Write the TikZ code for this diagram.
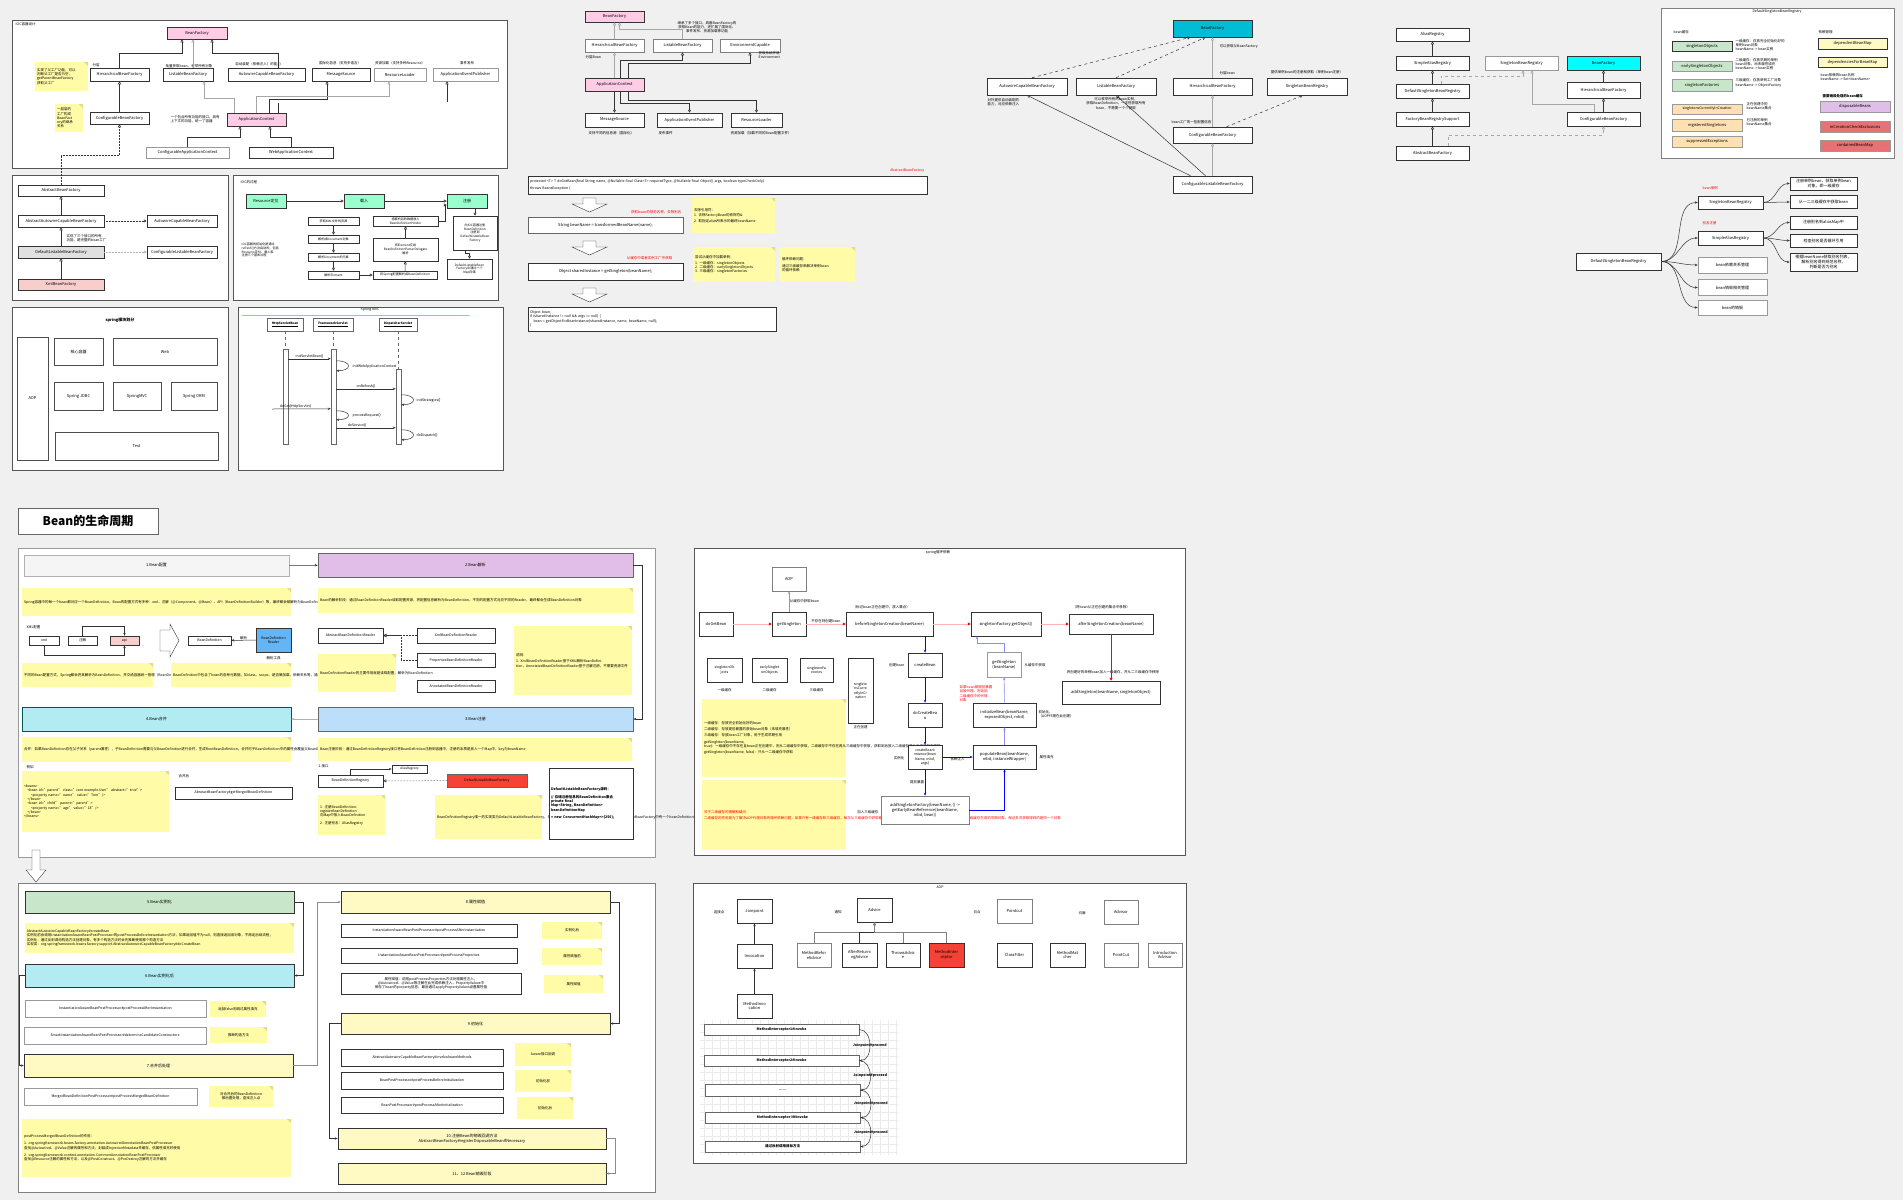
\documentclass[tikz,border=0pt]{standalone}
\usepackage{fontspec}
\setmainfont{Noto Sans CJK SC}
\usepackage{xcolor}
\definecolor{cBg}{HTML}{F0F0F0}
\definecolor{cLine}{HTML}{333333}
\definecolor{cFrame}{HTML}{555555}
\definecolor{cPink}{HTML}{FFCCE6}
\definecolor{cPinkL}{HTML}{F8CECC}
\definecolor{cNote}{HTML}{FFFBA6}
\definecolor{cFold}{HTML}{E2DC8A}
\definecolor{cMint}{HTML}{99FFCC}
\definecolor{cCyan}{HTML}{00BCD4}
\definecolor{cAqua}{HTML}{00FFFF}
\definecolor{cGreen}{HTML}{C8E6C9}
\definecolor{cOrange}{HTML}{FFE0B2}
\definecolor{cLemon}{HTML}{FFF9C4}
\definecolor{cPurple}{HTML}{E1BEE7}
\definecolor{cRose}{HTML}{E57373}
\definecolor{cRed}{HTML}{F44336}
\definecolor{cSky}{HTML}{BBDEFB}
\definecolor{cTeal}{HTML}{B2EBF2}
\definecolor{cBlue}{HTML}{64B5F6}
\definecolor{cGrayBox}{HTML}{E0E0E0}
\definecolor{cPale}{HTML}{F5F5F5}
\definecolor{cPinkLine}{HTML}{FFB3B3}
\usepackage{tikz}
\usetikzlibrary{arrows.meta}
\newcommand\fBox{\fontsize{4}{4.8}\selectfont}
\newcommand\fNote{\fontsize{3.5}{4.3}\selectfont}
\newcommand\fMicro{\fontsize{3.1}{3.8}\selectfont}
\tikzset{
  box/.style 2 args={draw=cLine,fill=white,line width=0.5pt,minimum width=#1,
    minimum height=#2,inner sep=0.5pt,align=center,font=\fBox},
  box-pink/.style={fill=cPink},
  note/.style 2 args={fill=cNote,minimum width=#1,minimum height=#2,inner sep=2pt,
    text width=#1-4,align=left,font=\fNote,
    path picture={\fill[cFold] (path picture bounding box.north east) -- ++(-4,0) -- ++(4,4) -- cycle;}},
  frame/.style={draw=cFrame,fill=white,line width=0.6pt},
  lbl/.style={font=\fNote,inner sep=0.5pt,align=center},
  arrow-inh/.style={-{Triangle[open,length=3pt,width=3pt]},draw=cLine,line width=0.5pt},
  arrow-inh-gray/.style={arrow-inh,draw=black!35},
  arrow-impl/.style={arrow-inh,dashed},
  arrow-dot/.style={arrow-inh,densely dotted},
  arrow/.style={-{Stealth[length=3pt,width=2.4pt]},draw=cLine,line width=0.5pt},
  arrow-red/.style={-{Triangle[length=3pt,width=3pt,color=red,fill=red]},draw=cPinkLine,line width=0.8pt},
  arrow-blue/.style={-{Stealth[length=3pt,width=2.4pt]},draw=blue,line width=0.6pt},
  arrow-blue-light/.style={arrow-blue,draw=blue!45},
}

\begin{document}
\begin{tikzpicture}[x=1pt,y=-1pt]
  \fill[cBg] (0,0) rectangle (1903,1200);
  \useasboundingbox (0,0) rectangle (1903,1200);

  \draw[frame] (12,20) rectangle (507,168);
  \node[lbl,anchor=west] (a-title) at (15,24) {IOC容器设计};
  \node[box={60}{12},box-pink] (a-bf) at (197,33) {BeanFactory};
  \node[box={59}{13}] (a-hbf) at (119.5,74.5) {HierarchicalBeanFactory};
  \node[box={50}{13}] (a-lbf) at (188,74.5) {ListableBeanFactory};
  \node[box={77}{13}] (a-acbf) at (266.5,74.5) {AutowireCapableBeanFactory};
  \node[box={58}{13}] (a-ms) at (341,74.5) {MessageSource};
  \node[box={52}{13},draw=black!40] (a-rl) at (400,74.5) {ResourceLoader};
  \node[box={65}{13},draw=black!40] (a-aep) at (465.5,74.5) {ApplicationEventPublisher};
  \node[box={59}{12}] (a-cbf) at (119.5,118) {ConfigurableBeanFactory};
  \node[box={59}{13},box-pink] (a-ac) at (256.5,119.5) {ApplicationContext};
  \node[box={83}{11},draw=black!40] (a-cac) at (187.5,152.5) {ConfigurableApplicationContext};
  \node[box={84}{11}] (a-wac) at (291,152.5) {WebApplicationContext};
  \node[lbl,anchor=west] (a-l1) at (92,65) {分层};
  \node[lbl] (a-l2) at (189,66) {批量获取bean，枚举所有对象};
  \node[lbl] (a-l3) at (258,64) {自动装配（依赖注入）的能力};
  \node[lbl] (a-l4) at (340,63) {国际化信息（支持多语言）};
  \node[lbl] (a-l5) at (400,63) {资源加载（支持多种Resource）};
  \node[lbl] (a-l6) at (467,63) {事件发布};
  \node[note={53}{29}] (a-n1) at (61.5,76.5) {实现了父工厂功能，可以\\判断父工厂是否为空，\\getParentBeanFactory\\获取父工厂};
  \node[note={28}{28}] (a-n2) at (69,118) {一层层的\\工厂构成\\BeanFact\\ory的继承\\关系};
  \node[lbl,align=left] (a-l7) at (195,119.5) {一个包含所有功能的接口，具有\\上下文的功能，统一了容器};
  \draw[arrow-inh] (a-hbf.north) -- ++(0,-15) -| ([xshift=-15pt]a-bf.south);
  \draw[arrow-inh-gray] ([xshift=5pt]a-lbf.north) -- ([xshift=-4pt]a-bf.south);
  \draw[arrow-inh] ([xshift=11.5pt]a-acbf.north) -- ++(0,-15) -| ([xshift=15pt]a-bf.south);
  \draw[arrow-inh] (a-cbf) -- (a-hbf);
  \draw[arrow-inh-gray] ([xshift=-22.5pt]a-ac.north) -- ++(0,-15) -| ([xshift=16pt]a-lbf.south);
  \draw[arrow-inh] ([xshift=12.5pt]a-ac.north) -- ++(0,-14) -| ([xshift=-14pt]a-ms.south);
  \draw[arrow-inh-gray] ([xshift=-0.5pt]a-ac.north) -- ++(0,-17) -| ([xshift=-11pt]a-rl.south);
  \draw[cLine,line width=0.5pt] ([xshift=21.5pt]a-ac.north) -- ++(0,-10);
  \coordinate (a-aep-end) at (447,102);
  \draw[arrow-inh] (a-aep-end) -- (a-aep-end |- a-aep.south);
  \draw[arrow-inh] (a-cac.north) -- ++(0,-10) -| ([xshift=-16.5pt]a-ac.south);
  \draw[arrow-inh] (a-wac.north) -- ++(0,-10) -| ([xshift=13.5pt]a-ac.south);

  \draw[frame] (12,175) rectangle (228,300);
  \node[box={86}{11}] (b-abf) at (61,190.5) {AbstractBeanFactory};
  \node[box={86}{12}] (b-aacbf) at (61,221) {AbstractAutowireCapableBeanFactory};
  \node[box={70}{12}] (b-acbf) at (182,221) {AutowireCapableBeanFactory};
  \node[box={86}{12},fill=cGrayBox] (b-dlbf) at (61,252) {DefaultListableBeanFactory};
  \node[box={70}{12}] (b-clbf) at (182,252) {ConfigurableListableBeanFactory};
  \node[box={86}{11},fill=cPinkL] (b-xml) at (61,284.5) {XmlBeanFactory};
  \node[lbl,anchor=west,align=left] (b-l1) at (66,238) {实现了三个接口的所有\\功能，是完整的bean工厂};
  \draw[arrow-dot] (b-abf.north) -- ++(0,-30) -| (a-cbf.south);
  \draw[arrow-inh] (b-aacbf) -- (b-abf);
  \draw[arrow-dot] (b-aacbf) -- (b-acbf);
  \draw[arrow-inh] (b-dlbf) -- (b-aacbf);
  \draw[arrow-dot,draw=black!30] (b-dlbf) -- (b-clbf);
  \draw[arrow-inh] (b-xml) -- (b-dlbf);

  \draw[frame] (233,175) rectangle (498,300);
  \node[lbl,anchor=west] (c-title) at (240,182) {IOC的过程};
  \node[box={40}{14},fill=cMint] (c-res) at (266,201) {Resource定位};
  \node[box={40}{14},fill=cMint] (c-load) at (364,201) {载入};
  \node[box={40}{14},fill=cMint] (c-reg) at (467,201) {注册};
  \node[box={51}{8},font=\fMicro] (c-l1) at (333.5,221) {获取XML文件的资源};
  \node[box={51}{8},font=\fMicro] (c-l2) at (333.5,239) {解析成Document对象};
  \node[box={51}{8},font=\fMicro] (c-l3) at (333.5,257) {解析Document的元素};
  \node[box={51}{8},font=\fMicro] (c-l4) at (333.5,275) {解析Element};
  \node[box={65}{10},font=\fMicro] (c-m1) at (405.5,221) {将解析后的数据放入\\BeanDefinitionHolder};
  \node[box={65}{23},font=\fMicro] (c-m2) at (405.5,249.5) {将Element交给\\BeanDefinitionParserDelegate\\解析};
  \node[box={64}{8},font=\fMicro] (c-m3) at (405,275) {将Spring配置解析成BeanDefinition};
  \node[box={44}{34},font=\fMicro] (c-r1) at (475,233) {向IOC容器注册\\BeanDefinition\\注册到\\DefaultListableBean\\Factory};
  \node[box={45}{20},font=\fMicro] (c-r2) at (469.5,269) {DefaultListableBean\\Factory中通过一个\\Map存储};
  \node[lbl,anchor=west,align=left,font=\fMicro] (c-l5) at (241,250) {IOC容器的初始化是通过\\refresh()方法启动的，包括\\Resource定位、载入和\\注册三个基本过程};
  \draw[arrow-inh] (c-res) -- (c-load);
  \draw[arrow-inh] (c-load) -- (c-reg);
  \draw[arrow-inh] (c-l1) -- (c-l2);
  \draw[arrow-inh] (c-l2) -- (c-l3);
  \draw[arrow-inh] (c-l3) -- (c-l4);
  \draw[arrow-inh] (c-l4) -- (c-m3);
  \draw[arrow-inh] (c-m3) -- (c-m2);
  \draw[arrow-inh] (c-m2) -- (c-m1);
  \draw[arrow-inh] (c-m1.east) -- ++(7,0) |- ([yshift=-4pt]c-reg.west);
  \draw[arrow-inh] (c-r1.north |- c-reg.south) -- (c-r1.north);
  \draw[arrow-inh] ([xshift=-10pt]c-r1.south) -- ++(0,3) -| (c-r2.north);

  \draw[frame] (12,307) rectangle (228,470);
  \node[lbl,font=\fBox\bfseries] (d-title) at (120,320) {spring模块划分};
  \node[box={31}{123},draw=black!70] (d-aop) at (32.5,398.5) {AOP};
  \node[box={49}{27},draw=black!70] (d-core) at (78.5,351.5) {核心容器};
  \node[box={104}{27},draw=black!70] (d-web) at (165,351.5) {Web};
  \node[box={49}{28},draw=black!70] (d-jdbc) at (78.5,396) {Spring JDBC};
  \node[box={48}{28},draw=black!70] (d-mvc) at (137,396) {SpringMVC};
  \node[box={46}{28},draw=black!70] (d-orm) at (194,396) {Spring ORM};
  \node[box={163}{28},draw=black!70] (d-test) at (136.5,446) {Test};

  \draw[frame] (238,307) rectangle (503,470);
  \node[lbl] (e-title) at (370,310) {Spring MVC};
  \draw[cRose!70,line width=0.5pt] (242,315) -- (469,315);
  \node[box={36}{13},draw=black!60,font=\fMicro] (e-hsb) at (285,324.5) {\bfseries\underline{HttpServletBean}};
  \node[box={40}{13},draw=black!60,font=\fMicro] (e-fs) at (333,324.5) {\bfseries\underline{FrameworkServlet}};
  \node[box={38}{13},draw=black!60,font=\fMicro] (e-ds) at (398,324.5) {\bfseries\underline{DispatcherServlet}};
  \node[box={5}{95},draw=black!60] (e-b1) at (285.5,396.5) {};
  \node[box={5}{95},draw=black!60] (e-b2) at (333.5,396.5) {};
  \node[box={5}{75},draw=black!60] (e-b3) at (398.5,406.5) {};
  \draw[dashed,black!60] (e-b1.north |- e-hsb.south) -- (e-b1.north);
  \draw[dashed,black!60] (e-b2.north |- e-fs.south) -- (e-b2.north);
  \draw[dashed,black!60] (e-b3.north |- e-ds.south) -- (e-b3.north);
  \coordinate (e-req) at (272,409);
  \draw[arrow] ([yshift=-10pt]e-b1.north east) -- node[lbl,above] (e-l1) {initServletBean()} ([yshift=-10pt]e-b2.north west);
  \draw[arrow] ([yshift=-12pt]e-b2.north east) .. controls +(16,0) and +(16,0) .. ([yshift=-22pt]e-b2.north east);
  \node[lbl,anchor=west] (e-l2) at (352,366) {initWebApplicationContext};
  \draw[arrow] ([yshift=-40pt]e-b2.north east) -- node[lbl,above] (e-l3) {onRefresh()} ([yshift=-20pt]e-b3.north west);
  \draw[arrow] ([yshift=-26pt]e-b3.north east) .. controls +(16,0) and +(16,0) .. ([yshift=-36pt]e-b3.north east);
  \node[lbl,anchor=west] (e-l4) at (416,400) {initStrategies()};
  \draw[arrow] (e-req) -- node[lbl,above,pos=0.4] (e-l5) {doGet(HttpServlet)} ([yshift=-60pt]e-b2.north west);
  \draw[arrow] ([yshift=-62pt]e-b2.north east) .. controls +(16,0) and +(16,0) .. ([yshift=-71pt]e-b2.north east);
  \node[lbl,anchor=west] (e-l6) at (352,415) {processRequest()};
  \draw[arrow] ([yshift=-79pt]e-b2.north east) -- node[lbl,above,pos=0.35] (e-l7) {doService()} ([yshift=-59pt]e-b3.north west);
  \draw[arrow] ([yshift=-61pt]e-b3.north east) .. controls +(16,0) and +(16,0) .. ([yshift=-71pt]e-b3.north east);
  \node[lbl,anchor=west] (e-l8) at (416,435) {doDispatch()};

  \node[box={59}{11},box-pink] (f-bf) at (614.5,16.5) {BeanFactory};
  \node[box={59}{13},draw=black!50] (f-hbf) at (614.5,45.5) {HierarchicalBeanFactory};
  \node[box={59}{13},draw=black!50] (f-lbf) at (682.5,45.5) {ListableBeanFactory};
  \node[box={60}{13},draw=black!50] (f-ec) at (750,45.5) {EnvironmentCapable};
  \node[box={59}{13},box-pink] (f-ac) at (614.5,84.5) {ApplicationContext};
  \node[box={59}{14}] (f-ms) at (614.5,120) {MessageSource};
  \node[box={65}{14}] (f-aep) at (689.5,120) {ApplicationEventPublisher};
  \node[box={51}{14}] (f-rl) at (756.5,120) {ResourceLoader};
  \draw[arrow-inh-gray] (f-hbf) -- (f-bf);
  \draw[arrow-inh-gray] (f-lbf.north) -- ++(0,-10) -| ([xshift=5pt]f-bf.south);
  \draw[arrow-inh-gray] (f-ac) -- (f-hbf);
  \draw[arrow-inh] ([xshift=5.5pt]f-ac.north) -- ++(0,-18) -| (f-lbf.south);
  \draw[arrow-inh] ([xshift=13.5pt]f-ac.north) -- ++(0,-15) -| (f-ec.south);
  \draw[arrow-inh] (f-ac) -- (f-ms);
  \draw[arrow-inh] ([xshift=5.5pt]f-ac.south) -- ++(0,12) -| (f-aep.north);
  \draw[arrow-inh] ([xshift=13.5pt]f-ac.south) -- ++(0,9) -| (f-rl.north);
  \node[lbl] (f-l1) at (707,27) {继承了多个接口，具备BeanFactory的\\获取Bean的能力，还扩展了国际化、\\事件发布、资源加载等功能};
  \node[lbl,anchor=west] (f-l2) at (585,57) {分层Bean};
  \node[lbl,anchor=west,align=left] (f-l3) at (758,55) {获取系统环境\\Environment};
  \node[lbl,anchor=west] (f-l4) at (588,133) {支持不同的信息源（国际化）};
  \node[lbl,anchor=west] (f-l5) at (658,133) {发布事件};
  \node[lbl,anchor=west] (f-l6) at (730,133) {资源加载（加载不同的Bean配置文件）};
  \node[lbl,anchor=east,text=red] (f-l7) at (925,171) {AbstractBeanFactory};
  \node[box={399}{18},align=left,text width=395,font=\fNote] (f-code) at (727.5,185) {protected <T> T doGetBean(final String name, @Nullable final Class<T> requiredType, @Nullable final Object[] args, boolean typeCheckOnly)\\[2pt]throws BeansException \{};
  \draw[fill=white,draw=cLine,line width=0.4pt] (583,198) -- (596,198) -- (596,204) -- (607,204) -- (589.5,212) -- (572,204) -- (583,204) -- cycle;
  \draw[fill=white,draw=cLine,line width=0.4pt] (583,241) -- (596,241) -- (596,247) -- (607,247) -- (589.5,255) -- (572,247) -- (583,247) -- cycle;
  \draw[fill=white,draw=cLine,line width=0.4pt] (583,288) -- (596,288) -- (596,294) -- (607,294) -- (589.5,302) -- (572,294) -- (583,294) -- cycle;
  \node[lbl,anchor=east,text=red] (f-l8) at (682,212) {获取bean的规范名称，去除别名};
  \node[box={155}{16},draw=black!60] (f-s1) at (605.5,225) {String beanName = transformedBeanName(name);};
  \node[note={83}{35}] (f-n1) at (733.5,215.5) {去除引用符：\\[1.5pt]1. 去除FactoryBean的修饰符\&\\[1.5pt]2. 取指定alias所表示的最终beanName};
  \node[lbl,anchor=east,text=red] (f-l9) at (673,258) {从缓存中或者实例工厂中获取};
  \node[box={155}{17}] (f-s2) at (605.5,271.5) {Object sharedInstance = getSingleton(beanName);};
  \node[note={82}{35}] (f-n2) at (734,264.5) {尝试从缓存中加载单例：\\[1.5pt]1. 一级缓存：singletonObjects\\2. 二级缓存：earlySingletonObjects\\3. 三级缓存：singletonFactories};
  \node[note={75}{35}] (f-n3) at (817.5,264.5) {循环依赖问题：\\[3pt]通过三级缓存来解决单例bean\\的循环依赖};
  \node[box={248}{24},align=left,text width=244,font=\fNote] (f-s3) at (652,319) {Object bean;\\if (sharedInstance != null \&\& args == null) \{\\\quad bean = getObjectForBeanInstance(sharedInstance, name, beanName, null);\\\}};

  \node[box={79}{17},fill=cCyan] (g-bf) at (1212.5,28.5) {BeanFactory};
  \node[box={80}{17}] (g-acbf) at (1027,86.5) {AutowireCapableBeanFactory};
  \node[box={80}{17}] (g-lbf) at (1116,86.5) {ListableBeanFactory};
  \node[box={79}{17}] (g-hbf) at (1212.5,86.5) {HierarchicalBeanFactory};
  \node[box={80}{17}] (g-sbr) at (1307,86.5) {SingletonBeanRegistry};
  \node[box={79}{16}] (g-cbf) at (1212.5,135) {ConfigurableBeanFactory};
  \node[box={79}{17}] (g-clbf) at (1212.5,184.5) {ConfigurableListableBeanFactory};
  \draw[arrow-impl] ([xshift=5pt]g-acbf.north) -- ([xshift=-22pt]g-bf.south);
  \draw[arrow-impl] (g-lbf.north) -- ([xshift=-7pt]g-bf.south);
  \draw[arrow-inh-gray] (g-hbf) -- (g-bf);
  \draw[arrow-inh-gray] (g-cbf) -- (g-hbf);
  \draw[arrow-impl] ([xshift=14pt]g-cbf.north) -- ([xshift=-4pt]g-sbr.south);
  \draw[arrow-inh-gray] (g-clbf) -- (g-cbf);
  \draw[arrow-inh] ([xshift=-22pt]g-clbf.north) -- (g-acbf.south);
  \draw[arrow-inh] ([xshift=-7pt]g-clbf.north) -- (g-lbf.south);
  \node[lbl,anchor=west] (g-l1) at (1219,46) {可以获取父BeanFactory};
  \node[lbl,anchor=west] (g-l2) at (1219,73) {分层bean};
  \node[lbl] (g-l3) at (1307,72) {提供单例bean的注册和获取（单例bean注册）};
  \node[lbl,anchor=east] (g-l4) at (1212,122) {bean工厂的一些配置信息};
  \node[lbl,anchor=north west,align=left] (g-l5) at (987,98) {对外提供自动装配的\\能力，对应依赖注入};
  \node[lbl,anchor=north] (g-l6) at (1116,97) {可以枚举所有的bean实例，\\获取BeanDefinition，一次性获取所有\\bean，不需要一个个获取};

  \node[box={73}{13}] (h-ar) at (1432.5,34.5) {AliasRegistry};
  \node[box={73}{14}] (h-sar) at (1432.5,63) {SimpleAliasRegistry};
  \node[box={73}{14}] (h-dsbr) at (1432.5,91) {DefaultSingletonBeanRegistry};
  \node[box={73}{14}] (h-fbrs) at (1432.5,119) {FactoryBeanRegistrySupport};
  \node[box={73}{14}] (h-abf) at (1432.5,153) {AbstractBeanFactory};
  \node[box={73}{14},draw=black!40] (h-sbr) at (1521.5,63) {SingletonBeanRegistry};
  \node[box={73}{14},fill=cAqua] (h-bf) at (1603.5,63) {BeanFactory};
  \node[box={73}{16}] (h-hbf) at (1603.5,90) {HierarchicalBeanFactory};
  \node[box={73}{14}] (h-cbf) at (1603.5,119) {ConfigurableBeanFactory};
  \draw[arrow-inh] (h-sar) -- (h-ar);
  \draw[arrow-inh] (h-dsbr) -- (h-sar);
  \draw[arrow-inh] (h-fbrs) -- (h-dsbr);
  \draw[arrow-inh] (h-abf) -- (h-fbrs);
  \draw[arrow-impl,draw=black!35] ([xshift=8.5pt]h-dsbr.north) -- ++(0,-8) -| ([xshift=1.5pt]h-sbr.south);
  \draw[arrow-inh] (h-hbf) -- (h-bf);
  \draw[arrow-inh] (h-cbf) -- (h-hbf);
  \draw[arrow-inh-gray] ([xshift=-9.5pt]h-cbf.north) -- ++(0,-8) -| ([xshift=10.5pt]h-sbr.south);
  \draw[arrow-impl,draw=black!35] ([xshift=15.5pt]h-abf.north) -- ++(0,-11) -| (h-cbf.south);

  \draw[frame,draw=black!50] (1661,8) rectangle (1894,158);
  \node[lbl] (i-title) at (1777,12) {DefaultSingletonBeanRegistry};
  \node[lbl,anchor=west] (i-l1) at (1673,32) {bean缓存};
  \node[box={60}{10},fill=cGreen] (i-so) at (1702,46) {singletonObjects};
  \node[box={60}{10},fill=cGreen,draw=black!40] (i-eso) at (1702,66) {earlySingletonObjects};
  \node[box={60}{12},fill=cGreen,draw=black!40] (i-sf) at (1702,85) {singletonFactories};
  \node[lbl,anchor=west,align=left] (i-l2) at (1735,45) {一级缓存：存放完全初始化好的\\单例bean对象\\beanName -> bean实例};
  \node[lbl,anchor=west,align=left] (i-l3) at (1735,64) {二级缓存：存放早期的单例\\bean对象，尚未属性填充\\beanName -> bean实例};
  \node[lbl,anchor=west,align=left] (i-l4) at (1735,83) {三级缓存：存放单例工厂对象\\beanName -> ObjectFactory};
  \node[box={70}{10},fill=cOrange,draw=black!40,font=\fNote] (i-scic) at (1707,109) {singletonsCurrentlyInCreation};
  \node[box={70}{12},fill=cOrange,draw=black!40] (i-rs) at (1707,125) {registeredSingletons};
  \node[box={70}{11},fill=cOrange,draw=black!40] (i-se) at (1707,141.5) {suppressedExceptions};
  \node[lbl,anchor=west,align=left] (i-l5) at (1746,106) {正在创建中的\\beanName集合};
  \node[lbl,anchor=west,align=left] (i-l6) at (1746,122) {已注册的单例\\beanName集合};
  \node[lbl,anchor=west] (i-l7) at (1818,32) {依赖管理};
  \node[box={69}{11},fill=cLemon] (i-dbm) at (1852.5,43.5) {dependentBeanMap};
  \node[box={69}{10},fill=cLemon] (i-dfbm) at (1852.5,62) {dependenciesForBeanMap};
  \node[lbl,anchor=west,align=left] (i-l8) at (1820,77) {bean依赖的bean名称\\beanName -> Set<beanName>};
  \node[lbl,anchor=west] (i-l9) at (1822,96) {\bfseries 需要销毁处理的bean缓存};
  \node[box={70}{11},fill=cPurple,draw=black!40] (i-db) at (1855,106.5) {disposableBeans};
  \node[box={70}{11},fill=cRose,draw=black!40] (i-icce) at (1855,126.5) {inCreationCheckExclusions};
  \node[box={70}{11},fill=cRose,draw=black!40] (i-cbm) at (1855,145.5) {containedBeanMap};

  \node[box={85}{17}] (j-root) at (1618.5,261.5) {DefaultSingletonBeanRegistry};
  \node[box={65}{13}] (j-c1) at (1730.5,202.5) {SingletonBeanRegistry};
  \node[box={65}{14}] (j-c2) at (1730.5,238) {SimpleAliasRegistry};
  \node[box={69}{16},draw=black!40] (j-c3) at (1732.5,265) {bean依赖关系管理};
  \node[box={69}{16},draw=black!40] (j-c4) at (1732.5,287.5) {bean销毁相关管理};
  \node[box={69}{15},draw=black!40] (j-c5) at (1732.5,307.5) {bean的销毁};
  \node[lbl,text=red,anchor=west] (j-l1) at (1702,188) {bean单例};
  \node[lbl,text=red,anchor=west] (j-l2) at (1702,223) {别名注册};
  \node[box={67}{13}] (j-g1) at (1823.5,183.5) {注册单例bean，获取单例bean\\对象，即一级缓存};
  \node[box={67}{13}] (j-g2) at (1823.5,202) {从一二三级缓存中获取bean};
  \node[box={67}{13}] (j-g3) at (1823.5,222.5) {注册别名到aliasMap中};
  \node[box={67}{13}] (j-g4) at (1823.5,240.5) {检查别名是否循环引用};
  \node[box={67}{18}] (j-g5) at (1823.5,262) {根据beanName获取别名列表，\\解析别名得到规范名称，\\判断是否为别名};
  \draw[arrow] (j-root.east) to[out=0,in=180] (j-c1.west);
  \draw[arrow] (j-root.east) to[out=0,in=180] (j-c2.west);
  \draw[arrow] (j-root.east) to[out=0,in=180] (j-c3.west);
  \draw[arrow] (j-root.east) to[out=0,in=180] (j-c4.west);
  \draw[arrow] (j-root.east) to[out=0,in=180] (j-c5.west);
  \draw[arrow] (j-c1.east) to[out=0,in=180] (j-g1.west);
  \draw[arrow] (j-c1.east) to[out=0,in=180] (j-g2.west);
  \draw[arrow] (j-c2.east) to[out=0,in=180] (j-g3.west);
  \draw[arrow] (j-c2.east) to[out=0,in=180] (j-g4.west);
  \draw[arrow] (j-c2.east) to[out=0,in=180] (j-g5.west);

  \node[draw=black!60,fill=white,minimum width=140,minimum height=26,font=\fontsize{12}{14}\selectfont\bfseries] (k-title) at (88,521) {Bean的生命周期};
  \draw[frame,draw=black!40] (18,548) rectangle (655,857);
  \node[box={265}{21},fill=cPale,draw=black!30] (k-s1) at (156.5,565.5) {1.Bean配置};
  \node[box={315}{24},fill=cPurple,draw=black!60] (k-s2) at (475.5,565) {2.Bean解析};
  \node[box={315}{24},fill=cSky,draw=black!60] (k-s3) at (475.5,719) {3.Bean注册};
  \node[box={269}{24},fill=cTeal,draw=teal!70!black] (k-s4) at (156.5,719) {4.Bean合并};
  \draw[arrow] (k-s1) -- (k-s2);
  \draw[arrow] (k-s2.east) -- ++(9,0) |- (k-s3.east);
  \draw[arrow,draw=black!30] (k-s3) -- (k-s4);
  \node[note={269}{28}] (k-n1) at (156.5,602) {Spring容器中的每一个bean都对应一个BeanDefinition，Bean的配置方式有多种：xml、注解（@Component、@Bean）、API（BeanDefinitionBuilder）等，最终都会被解析为BeanDefinition};
  \node[note={315}{25}] (k-n2) at (475.5,600.5) {Bean的解析阶段：通过BeanDefinitionReader读取配置资源，将配置信息解析为BeanDefinition，不同的配置方式对应不同的Reader，最终都会生成BeanDefinition对象};
  \node[lbl,anchor=west] (k-l1) at (26,627) {XML配置};
  \node[box={30}{9},font=\fNote] (k-b1) at (44,640.5) {xml};
  \node[box={29}{9},font=\fNote] (k-b2) at (82.5,640.5) {注解};
  \node[box={29}{9},fill=cPinkL,font=\fNote] (k-b3) at (124.5,640.5) {api};
  \draw[arrow] (k-b1.south) -- ++(0,10) -| (k-b3.south);
  \draw[arrow] (k-b2.north) -- ++(0,-10) -| (k-b3.north);
  \draw[fill=white,draw=cLine,line width=0.4pt] (160,630) -- (170,630) -- (170,624) -- (179,640.5) -- (170,657) -- (170,651) -- (160,651) -- cycle;
  \node[box={43}{9},font=\fNote] (k-bd) at (209.5,640.5) {BeanDefinition};
  \node[box={35}{24},fill=cBlue,font=\fNote] (k-bdr) at (273.5,640) {BeanDefinition\\Reader};
  \draw[arrow] (k-bdr) -- node[lbl,above] (k-l2) {解析} (k-bd);
  \node[lbl] (k-l3) at (273.5,658) {解析工具};
  \node[note={131}{24}] (k-n3) at (87.5,675) {不同的Bean配置方式，Spring都会将其解析为BeanDefinition，并交给容器统一管理（BeanDefinitionRegistry）};
  \node[note={120}{24}] (k-n4) at (231,675) {BeanDefinition中包含了bean的各种元数据，如class、scope、是否懒加载、依赖关系等，通过Reader解析后注册到容器中};
  \node[box={65}{15},font=\fNote] (k-abdr) at (350.5,635.5) {AbstractBeanDefinitionReader};
  \node[box={78}{15},font=\fNote] (k-xbdr) at (456,635.5) {XmlBeanDefinitionReader};
  \node[box={78}{14},font=\fNote] (k-pbdr) at (456,660) {PropertiesBeanDefinitionReader};
  \node[box={78}{12},font=\fNote] (k-adr) at (456,686) {AnnotatedBeanDefinitionReader};
  \draw[arrow-dot] (k-xbdr) -- (k-abdr);
  \draw[arrow-dot] (k-pbdr.west) -- ++(-16,0) |- (k-abdr.east);
  \node[note={78}{38}] (k-n5) at (357,673) {BeanDefinitionReader的主要作用就是读取配置，解析为BeanDefinition};
  \node[note={118}{69}] (k-n6) at (573,660.5) {说明：\\[2pt]1. XmlBeanDefinitionReader基于XML解析BeanDefinition，AnnotatedBeanDefinitionReader基于注解注册，不需要资源文件};
  \node[note={269}{25}] (k-n7) at (156.5,749.5) {合并：如果BeanDefinition存在父子关系（parent属性），子BeanDefinition需要与父BeanDefinition进行合并，生成RootBeanDefinition，合并时子BeanDefinition中的属性会覆盖父BeanDefinition中的同名属性，合并后的BeanDefinition用于后续bean的实例化};
  \node[lbl,anchor=west] (k-l4) at (26,767) {例如};
  \node[note={147}{61}] (k-n8) at (95.5,801.5) {<beans>\\\quad<bean id="parent" class="com.example.User" abstract="true">\\\quad\quad<property name="name" value="Tom"/>\\\quad</bean>\\\quad<bean id="child" parent="parent">\\\quad\quad<property name="age" value="18"/>\\\quad</bean>\\</beans>};
  \node[lbl,anchor=west] (k-l5) at (178,776) {合并后};
  \node[box={117}{12},font=\fNote] (k-merge) at (233.5,793) {AbstractBeanFactory\#getMergedBeanDefinition};
  \node[note={314}{23}] (k-n9) at (475,749.5) {Bean注册阶段：通过BeanDefinitionRegistry接口将BeanDefinition注册到容器中，注册的本质是放入一个Map中，key为beanName};
  \node[lbl,anchor=west] (k-l6) at (318,766) {1.接口};
  \node[box={65}{12},font=\fNote] (k-bdreg) at (350.5,781) {BeanDefinitionRegistry};
  \node[box={35}{8},font=\fMicro] (k-alias) at (409.5,769) {AliasRegistry};
  \draw[arrow] (k-bdreg.north) |- (k-alias.west);
  \node[box={80}{13},fill=cRed,draw=black!60,font=\fNote] (k-dlbf) at (487,780.5) {DefaultListableBeanFactory};
  \draw[arrow-dot] (k-dlbf) -- (k-bdreg);
  \node[note={67}{40}] (k-n10) at (351.5,815) {1. 注册BeanDefinition：\\registerBeanDefinition\\向Map中放入BeanDefinition\\[3pt]2. 注册别名：AliasRegistry};
  \node[note={107}{44}] (k-n11) at (488.5,817) {BeanDefinitionRegistry唯一的实现类为DefaultListableBeanFactory，负责所有BeanDefinition的注册与管理，DefaultListableBeanFactory中有一个beanDefinitionMap存储注册信息};
  \node[box={84}{71},align=left,text width=80,font=\fNote] (k-code) at (591,803.5) {\bfseries DefaultListableBeanFactory源码：\\[3pt]// 存储注册信息的BeanDefinition集合\\private final\\Map<String, BeanDefinition>\\beanDefinitionMap\\[3pt]= new ConcurrentHashMap<>(256);};
  \draw[fill=white,draw=cLine,line width=0.4pt] (32,850) -- (40,850) -- (40,870) -- (46,870) -- (36,882) -- (26,870) -- (32,870) -- cycle;

  \draw[frame,draw=black!50] (18,883) rectangle (655,1192);
  \node[box={269}{22},fill=cGreen] (l-s5) at (159.5,902) {5.Bean实例化};
  \node[note={269}{30}] (l-n1) at (159.5,938) {AbstractAutowireCapableBeanFactory\#createBean\\实例化前会调用InstantiationAwareBeanPostProcessor的postProcessBeforeInstantiation方法，如果返回值不为null，则直接返回该对象，不再走后续流程；\\实例化：通过反射调用构造方法创建对象，有多个构造方法时会先推断使用哪个构造方法\\实现类：org.springframework.beans.factory.support.AbstractAutowireCapableBeanFactory\#doCreateBean};
  \node[box={269}{23},fill=cTeal] (l-s6) at (159.5,975.5) {6.Bean实例化后};
  \draw[arrow] (l-s5.east) -- ++(9,0) |- (l-s6.east);
  \node[box={181}{17},draw=black!40,font=\fNote] (l-b1) at (115.5,1008.5) {InstantiationAwareBeanPostProcessor\#postProcessAfterInstantiation};
  \node[note={56}{16},align=center] (l-nb1) at (238,1009) {返回false则跳过属性填充};
  \node[box={182}{17},draw=black!40,font=\fNote] (l-b2) at (115,1035.5) {SmartInstantiationAwareBeanPostProcessor\#determineCandidateConstructors};
  \node[note={57}{16},align=center] (l-nb2) at (238.5,1035) {推断构造方法};
  \node[box={269}{23},fill=cLemon] (l-s7) at (158.5,1065.5) {7.合并后处理};
  \draw[arrow] (l-s6.west) -- ++(-6,0) |- (l-s7.west);
  \node[box={173}{17},draw=black!40,font=\fNote] (l-b3) at (110.5,1096.5) {MergedBeanDefinitionPostProcessor\#postProcessMergedBeanDefinition};
  \node[note={64}{21},align=center] (l-nb3) at (241,1096.5) {对合并后的BeanDefinition\\做后置处理，查找注入点};
  \node[note={269}{58}] (l-n2) at (156.5,1148) {postProcessMergedBeanDefinition的作用：\\[3pt]1. org.springframework.beans.factory.annotation.AutowiredAnnotationBeanPostProcessor\\查找@Autowired、@Value注解的属性和方法，封装成InjectionMetadata并缓存，供属性填充时使用\\[3pt]2. org.springframework.context.annotation.CommonAnnotationBeanPostProcessor\\查找@Resource注解的属性和方法，以及@PostConstruct、@PreDestroy注解的方法并缓存};
  \node[box={269}{22},fill=cLemon] (l-s8) at (475.5,902) {8.属性赋值};
  \draw[arrow,draw=black!45] (l-s7.east) -- ++(24,0) |- (l-s8.west);
  \node[box={176}{13},font=\fNote] (l-b4) at (429,930.5) {InstantiationAwareBeanPostProcessor\#postProcessAfterInstantiation};
  \node[note={60}{17},align=center] (l-nb4) at (572,930.5) {实例化后};
  \node[box={176}{15},font=\fNote] (l-b5) at (429,955.5) {InstantiationAwareBeanPostProcessor\#postProcessProperties};
  \node[note={60}{17},align=center] (l-nb5) at (572,956.5) {属性赋值前};
  \node[box={180}{21},font=\fNote] (l-b6) at (431,983.5) {属性赋值：调用postProcessProperties方法处理属性注入，\\@Autowired、@Value等注解在此完成依赖注入，PropertyValues中\\保存了bean的property信息，最后通过applyPropertyValues设置属性值};
  \node[note={59}{18},align=center] (l-nb6) at (573.5,984) {属性赋值};
  \node[box={269}{21},fill=cLemon] (l-s9) at (475.5,1023.5) {9.初始化};
  \draw[arrow] (l-s8.east) -- ++(9,0) |- (l-s9.east);
  \node[box={162}{17},font=\fNote] (l-b7) at (422,1057.5) {AbstractAutowireCapableBeanFactory\#invokeAwareMethods};
  \node[note={56}{23},align=center] (l-nb7) at (543,1054.5) {Aware接口回调};
  \node[box={162}{17},font=\fNote] (l-b8) at (422,1080.5) {BeanPostProcessor\#postProcessBeforeInitialization};
  \node[note={56}{22},align=center] (l-nb8) at (543,1081) {初始化前};
  \node[box={162}{16},font=\fNote] (l-b9) at (422,1105) {BeanPostProcessor\#postProcessAfterInitialization};
  \node[note={56}{22},align=center] (l-nb9) at (545,1108) {初始化后};
  \node[box={268}{21},fill=cLemon] (l-s10) at (472,1138.5) {10.注册Bean的销毁回调方法\\AbstractBeanFactory\#registerDisposableBeanIfNecessary};
  \draw[arrow] (l-s9.west) -- ++(-12,0) |- (l-s10.west);
  \node[box={268}{21},fill=cLemon] (l-s11) at (472,1173.5) {11、12 Bean销毁阶段};
  \draw[arrow,draw=black!45] (l-s10.east) -- ++(9,0) |- (l-s11.east);

  \draw[frame] (694,548) rectangle (1185,855);
  \node[lbl] (m-title) at (938,552) {spring循环依赖};
  \node[box={34}{24},draw=black!50] (m-aop) at (789,579) {AOP};
  \node[box={34}{24}] (m-dgb) at (716,624) {doGetBean};
  \node[box={34}{24}] (m-gs) at (789,624) {getSingleton};
  \node[box={87}{24}] (m-bsc) at (889.5,624) {beforeSingletonCreation(beanName)};
  \node[box={70}{24}] (m-sfgo) at (1006,624) {singletonFactory.getObject()};
  \node[box={84}{20}] (m-asc) at (1111,624) {afterSingletonCreation(beanName)};
  \node[lbl,anchor=west] (m-l5) at (852,607) {（标记bean正在创建中，放入集合）};
  \node[lbl,anchor=west] (m-l6) at (1072,607) {（将bean从正在创建的集合中移除）};
  \draw[arrow-red] (m-dgb) -- (m-gs);
  \draw[arrow-red] (m-gs) -- node[lbl,above] (m-l1) {不存在则创建bean} (m-bsc);
  \draw[arrow-red] (m-bsc) -- (m-sfgo);
  \draw[arrow-red] (m-sfgo) -- (m-asc);
  \draw[arrow,draw=black!40] (m-gs) -- node[lbl,right] (m-l2) {从缓存中获取bean} (m-aop);
  \node[box={35}{24},font=\fNote] (m-c1) at (724.5,670) {singletonOb\\jects};
  \node[box={35}{24},font=\fNote] (m-c2) at (769.5,670) {earlySinglet\\onObjects};
  \node[box={33}{24},font=\fNote] (m-c3) at (816.5,670) {singletonFa\\ctories};
  \node[box={25}{65},font=\fNote] (m-c4) at (860.5,690.5) {singleto\\nsCurre\\ntlyInCr\\eation};
  \node[lbl] (m-l7) at (724.5,690) {一级缓存};
  \node[lbl] (m-l8) at (769.5,690) {二级缓存};
  \node[lbl] (m-l9) at (816.5,690) {三级缓存};
  \node[lbl] (m-l10) at (860.5,727) {正在创建};
  \node[note={144}{78}] (m-n1) at (774,738) {一级缓存：存放完全初始化好的bean\\[2pt]二级缓存：存放提前暴露的原始bean对象（未填充属性）\\[2pt]三级缓存：存放bean工厂对象，用于生成早期引用\\[2pt]getSingleton(beanName, true)：一级缓存中不存在且bean正在创建中，则从二级缓存中获取，二级缓存中不存在再从三级缓存中获取，获取到后放入二级缓存并从三级缓存中移除\\[2pt]getSingleton(beanName, false)：只从一二级缓存中获取};
  \node[note={144}{70},text=red] (m-n2) at (774,815) {关于二级缓存的理解和疑问：\\[2pt]二级缓存的作用是为了解决AOP代理对象的循环依赖问题，如果只有一级缓存和三级缓存，每次从三级缓存中获取都会生成新的代理对象，无法保证单例；二级缓存保存了三级缓存生成的早期对象，保证多次获取得到的是同一个对象};
  \node[box={34}{24}] (m-cb) at (925,665) {createBean};
  \node[box={34}{24}] (m-dcb) at (925,715) {doCreateBea\\n};
  \node[box={34}{24},font=\fNote] (m-cbi) at (925,757) {createBeanI\\nstance(bean\\Name, mbd,\\args)};
  \node[box={88}{28},draw=black!50] (m-asf) at (925,810) {addSingletonFactory(beanName, () ->\\getEarlyBeanReference(beanName,\\mbd, bean))};
  \node[box={63}{24}] (m-pb) at (1004.5,757) {populateBean(beanName,\\mbd, instanceWrapper)};
  \node[box={63}{24}] (m-ib) at (1004.5,715) {initializeBean(beanName,\\exposedObject, mbd)};
  \node[box={34}{25},draw=black!40] (m-gs2) at (1004,664.5) {getSingleton\\(beanName)};
  \node[box={98}{23}] (m-as) at (1111,692.5) {addSingleton(beanName, singletonObject)};
  \node[lbl] (m-l18) at (1113,672) {将创建好的单例bean加入一级缓存，并从二三级缓存中移除};
  \draw[arrow-red,draw=red] (m-asc) -- (m-as);
  \node[lbl,anchor=east] (m-l11) at (905,665) {创建bean};
  \node[lbl,anchor=east] (m-l12) at (905,758) {实例化};
  \node[lbl,anchor=east] (m-l13) at (879,812) {加入三级缓存};
  \node[lbl,anchor=west] (m-l14) at (1039,757) {属性填充};
  \node[lbl,anchor=west,align=left] (m-l15) at (1038,714) {初始化，\\（AOP代理在此创建）};
  \node[lbl,anchor=west] (m-l16) at (1024,665) {从缓存中获取};
  \node[lbl,anchor=north west,align=left,text=red] (m-l17) at (959,685) {如果bean被提前暴露\\且被代理，则返回\\二级缓存中的代理\\对象};
  \draw[arrow-blue] ([xshift=35.5pt]m-bsc.south) -- (m-cb.north);
  \draw[arrow-blue] (m-cb) -- (m-dcb);
  \draw[arrow-blue] (m-dcb) -- (m-cbi);
  \draw[arrow-blue] (m-cbi) -- node[lbl,left] (m-l3) {提前暴露} (m-asf);
  \draw[arrow-blue] (m-cbi) -- node[lbl,below] (m-l4) {依赖注入} (m-pb);
  \draw[arrow-blue] (m-asf.east) -| (m-pb.south);
  \draw[arrow-blue-light] (m-pb) -- (m-ib);
  \draw[arrow-blue-light] (m-ib) -- (m-gs2);
  \draw[arrow-blue-light] (m-gs2.north) -- ++(0,-8) -| ([xshift=-29pt]m-sfgo.south);

  \draw[frame] (693,883) rectangle (1186,1163);
  \node[lbl] (n-title) at (940,887) {AOP};
  \node[lbl] (n-l1) at (719,912) {连接点};
  \node[lbl] (n-l2) at (838,912) {通知};
  \node[lbl] (n-l3) at (977,912) {切点};
  \node[lbl] (n-l4) at (1082,913) {切面};
  \node[box={35}{24}] (n-jp) at (754.5,911) {Joinpoint};
  \node[box={35}{24}] (n-inv) at (754.5,956) {Invocation};
  \node[box={35}{24}] (n-mi) at (754.5,1006) {MethodInvo\\cation};
  \draw[arrow] (n-inv) -- (n-jp);
  \draw[arrow] (n-mi) -- (n-inv);
  \node[box={35}{24}] (n-adv) at (874.5,910) {Advice};
  \node[box={34}{24},draw=black!50] (n-mba) at (814,955) {MethodBefor\\eAdvice};
  \node[box={35}{24}] (n-ara) at (859.5,955) {AfterReturni\\ngAdvice};
  \node[box={34}{24}] (n-ta) at (903,955) {ThrowsAdvic\\e};
  \node[box={35}{24},fill=cRed] (n-mint) at (946.5,955) {MethodInter\\ceptor};
  \draw[arrow,draw=black!50] (n-mba.north) -- ++(0,-11) -| (n-adv.south);
  \draw[arrow] (n-ara.north) -- ++(0,-11) -| (n-adv.south);
  \draw[arrow,draw=black!50] (n-ta.north) -- ++(0,-11) -| (n-adv.south);
  \draw[arrow,draw=black!50] (n-mint.north) -- ++(0,-11) -| (n-adv.south);
  \node[box={35}{24},draw=black!50] (n-pc) at (1014.5,911) {Pointcut};
  \node[box={35}{24}] (n-cf) at (1014.5,955) {ClassFilter};
  \node[box={35}{24}] (n-mm) at (1067.5,955) {MethodMat\\cher};
  \node[box={34}{24},draw=black!50] (n-ad) at (1121,912) {Advisor};
  \node[box={34}{24},draw=black!50] (n-pc2) at (1121,955) {PointCut};
  \node[box={34}{24},draw=black!50] (n-ia) at (1165,955) {Introduction\\Advisor};
  \draw[black!8,step=8pt] (700,1155) grid (898,1020);
  \node[box={155}{11},font=\fNote\bfseries,draw=black!60] (n-k1) at (781.5,1029.5) {MethodInterceptor1\#invoke};
  \node[box={155}{11},font=\fNote\bfseries,draw=black!60] (n-k2) at (781.5,1060.5) {MethodInterceptor2\#invoke};
  \node[box={155}{12},font=\fNote\bfseries,draw=black!60] (n-k3) at (782.5,1090) {......};
  \node[box={155}{11},font=\fNote\bfseries,draw=black!60] (n-k4) at (782.5,1117.5) {MethodInterceptor N\#invoke};
  \node[box={155}{11},font=\fNote\bfseries,draw=black!60] (n-k5) at (782.5,1146.5) {通过反射调用目标方法};
  \draw[arrow] (n-k1.east) .. controls +(14,0) and +(14,0) .. node[lbl,font=\fNote\bfseries] (n-l5) {Joinpoint\#proceed} (n-k2.east);
  \draw[arrow] (n-k2.east) .. controls +(14,0) and +(14,0) .. node[lbl,font=\fNote\bfseries] (n-l6) {Joinpoint\#proceed} (n-k3.east);
  \draw[arrow] (n-k3.east) .. controls +(14,0) and +(14,0) .. node[lbl,font=\fNote\bfseries] (n-l7) {Joinpoint\#proceed} (n-k4.east);
  \draw[arrow] (n-k4.east) .. controls +(14,0) and +(14,0) .. node[lbl,font=\fNote\bfseries] (n-l8) {Joinpoint\#proceed} (n-k5.east);
\end{tikzpicture}
\end{document}
